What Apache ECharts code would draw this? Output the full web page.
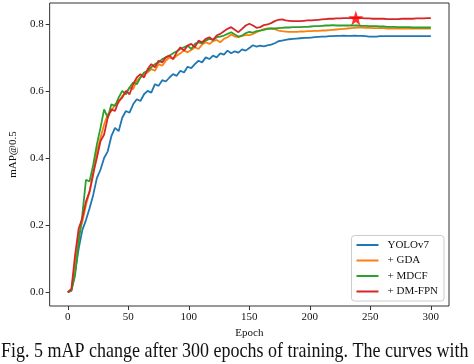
<!DOCTYPE html>
<html>
<head>
<meta charset="utf-8">
<script src="https://cdn.jsdelivr.net/npm/echarts@6/dist/echarts.min.js"></script>
<style>html,body{margin:0;padding:0;background:#fff;}#c{width:474px;height:364px;}</style>
</head>
<body>
<div id="c"></div>
<script>
const epochs = [0,3,6,9,12,15,18,21,24,27,30,33,36,39,42,45,48,51,54,57,60,63,66,69,72,75,78,81,84,87,90,93,96,99,102,105,108,111,114,117,120,123,126,129,132,135,138,141,144,147,150,153,156,159,162,165,168,171,174,177,180,183,186,189,192,195,198,201,204,207,210,213,216,219,222,225,228,231,234,237,240,243,246,249,252,255,258,261,264,267,270,273,276,279,282,285,288,291,294,297,300];
const xTicks = [0,50,100,150,200,250,300];
const yTicks = [0,0.2,0.4,0.6,0.8];
const seriesNames = ['YOLOv7','+ GDA','+ MDCF','+ DM-FPN'];
const yolov7 = [
0.000,0.005,0.060,0.130,0.185,0.215,0.250,0.290,0.340,0.365,
0.400,0.420,0.465,0.490,0.480,0.520,0.540,0.535,0.560,0.575,
0.570,0.590,0.600,0.595,0.620,0.615,0.632,0.628,0.640,0.650,
0.645,0.660,0.655,0.672,0.668,0.680,0.690,0.685,0.700,0.695,
0.705,0.700,0.712,0.708,0.720,0.712,0.718,0.714,0.724,0.720,
0.728,0.736,0.732,0.735,0.733,0.736,0.738,0.742,0.748,0.750,
0.752,0.754,0.755,0.756,0.757,0.758,0.758,0.759,0.760,0.761,
0.762,0.762,0.763,0.763,0.764,0.764,0.765,0.764,0.764,0.765,
0.764,0.764,0.763,0.762,0.762,0.762,0.763,0.763,0.763,0.763,
0.763,0.763,0.763,0.763,0.763,0.763,0.763,0.763,0.763,0.763,
0.763];
const gda = [
0.000,0.008,0.080,0.170,0.210,0.260,0.300,0.350,0.420,0.460,
0.500,0.530,0.540,0.560,0.565,0.585,0.595,0.610,0.605,0.630,
0.640,0.650,0.655,0.665,0.660,0.680,0.675,0.690,0.700,0.695,
0.705,0.712,0.720,0.715,0.722,0.730,0.725,0.738,0.745,0.740,
0.748,0.752,0.745,0.755,0.760,0.768,0.762,0.760,0.764,0.766,
0.766,0.770,0.775,0.780,0.784,0.786,0.786,0.784,0.780,0.778,
0.777,0.776,0.776,0.776,0.777,0.777,0.778,0.778,0.779,0.779,
0.780,0.780,0.781,0.782,0.783,0.784,0.785,0.786,0.787,0.788,
0.789,0.789,0.788,0.788,0.787,0.787,0.787,0.787,0.786,0.786,
0.786,0.786,0.786,0.786,0.786,0.786,0.786,0.786,0.786,0.786,
0.786];
const mdcf = [
0.000,0.005,0.050,0.150,0.230,0.335,0.330,0.380,0.440,0.490,
0.545,0.520,0.560,0.555,0.580,0.600,0.590,0.610,0.625,0.620,
0.640,0.655,0.660,0.670,0.680,0.685,0.695,0.700,0.705,0.712,
0.718,0.725,0.730,0.735,0.725,0.740,0.745,0.742,0.750,0.755,
0.752,0.760,0.762,0.765,0.770,0.775,0.768,0.762,0.765,0.772,
0.776,0.774,0.778,0.780,0.782,0.785,0.786,0.786,0.787,0.788,
0.789,0.789,0.790,0.790,0.790,0.791,0.791,0.792,0.793,0.793,
0.794,0.795,0.795,0.796,0.795,0.795,0.795,0.795,0.795,0.795,
0.795,0.794,0.794,0.793,0.793,0.793,0.792,0.792,0.791,0.791,
0.791,0.790,0.790,0.790,0.790,0.789,0.789,0.789,0.789,0.789,
0.789];
const dmfpn = [
0.000,0.010,0.110,0.190,0.220,0.270,0.300,0.355,0.400,0.450,
0.470,0.520,0.545,0.540,0.570,0.580,0.600,0.590,0.620,0.640,
0.650,0.640,0.665,0.680,0.670,0.690,0.685,0.700,0.705,0.695,
0.715,0.730,0.720,0.735,0.740,0.730,0.750,0.745,0.755,0.760,
0.752,0.765,0.770,0.778,0.785,0.790,0.782,0.775,0.785,0.795,
0.800,0.795,0.788,0.790,0.796,0.798,0.802,0.808,0.812,0.813,
0.810,0.809,0.808,0.808,0.808,0.809,0.810,0.810,0.811,0.812,
0.813,0.814,0.815,0.815,0.816,0.816,0.817,0.817,0.817,0.818,
0.818,0.817,0.816,0.816,0.815,0.815,0.815,0.815,0.814,0.814,
0.814,0.814,0.815,0.815,0.815,0.815,0.816,0.816,0.816,0.817,
0.817];
const bestPoint = [238, 0.817];
const colors = ['#1f77b4','#ff7f0e','#2ca02c','#d62728'];

const allValues = [yolov7, gda, mdcf, dmfpn];
const font = '"Liberation Serif","Times New Roman",serif';
const chart = echarts.init(document.getElementById('c'), null, {renderer:'canvas'});
const lineSeries = allValues.map((vals, i) => ({
  name: seriesNames[i],
  type: 'line',
  data: epochs.map((e, j) => [e, vals[j]]),
  showSymbol: false,
  symbol: 'none',
  lineStyle: {width: 1.8, color: colors[i]},
  itemStyle: {color: colors[i]},
  animation: false,
  z: 2 + i
}));
lineSeries.push({
  name: 'best',
  type: 'scatter',
  data: [bestPoint],
  symbol: 'path://M50,0 L61.8,36.2 L100,36.2 L69.1,58.8 L80.9,95.1 L50,72.7 L19.1,95.1 L30.9,58.8 L0,36.2 L38.2,36.2 Z',
  symbolSize: 15,
  itemStyle: {color: '#ff0000'},
  animation: false,
  z: 10
});
chart.setOption({
  animation: false,
  backgroundColor: '#fff',
  grid: {left: 48, right: 25, top: 3, bottom: 58, show: true, borderColor: '#333', borderWidth: 1, backgroundColor: 'transparent'},
  xAxis: {
    type: 'value', min: -15, max: 315,
    name: 'Epoch', nameLocation: 'middle', nameGap: 22,
    nameTextStyle: {fontFamily: font, fontSize: 11, color: '#111'},
    axisLine: {show: false, onZero: false},
    splitLine: {show: false},
    axisTick: {show: true, length: 4, inside: false, customValues: xTicks, lineStyle: {color: '#333'}},
    axisLabel: {customValues: xTicks, fontFamily: font, fontSize: 11, color: '#111', margin: 6}
  },
  yAxis: {
    type: 'value', min: -0.041, max: 0.862,
    name: 'mAP@0.5', nameLocation: 'middle', nameGap: 30,
    nameTextStyle: {fontFamily: font, fontSize: 11, color: '#111'},
    axisLine: {show: false, onZero: false},
    splitLine: {show: false},
    axisTick: {show: true, length: 4, inside: false, customValues: yTicks, lineStyle: {color: '#333'}},
    axisLabel: {customValues: yTicks, fontFamily: font, fontSize: 11, color: '#111', margin: 6,
      formatter: v => v.toFixed(1)}
  },
  legend: {
    data: seriesNames,
    orient: 'vertical',
    right: 30, bottom: 63,
    padding: [4, 6, 4, 5],
    itemGap: 4.5,
    itemWidth: 22, itemHeight: 2,
    icon: 'rect',
    borderColor: '#ccc', borderWidth: 1, borderRadius: 3,
    backgroundColor: 'rgba(255,255,255,0.8)',
    textStyle: {fontFamily: font, fontSize: 11, color: '#111', padding: [0,0,0,4], lineHeight: 11}
  },
  graphic: [{
    type: 'text', x: 1, y: 352, scaleX: 1, scaleY: 1.15,
    style: {text: 'Fig. 5 mAP change after 300 epochs of training. The curves with', font: '18px ' + font, fill: '#111', verticalAlign: 'middle', align: 'left'}
  }],
  series: lineSeries
});
</script>
</body>
</html>
